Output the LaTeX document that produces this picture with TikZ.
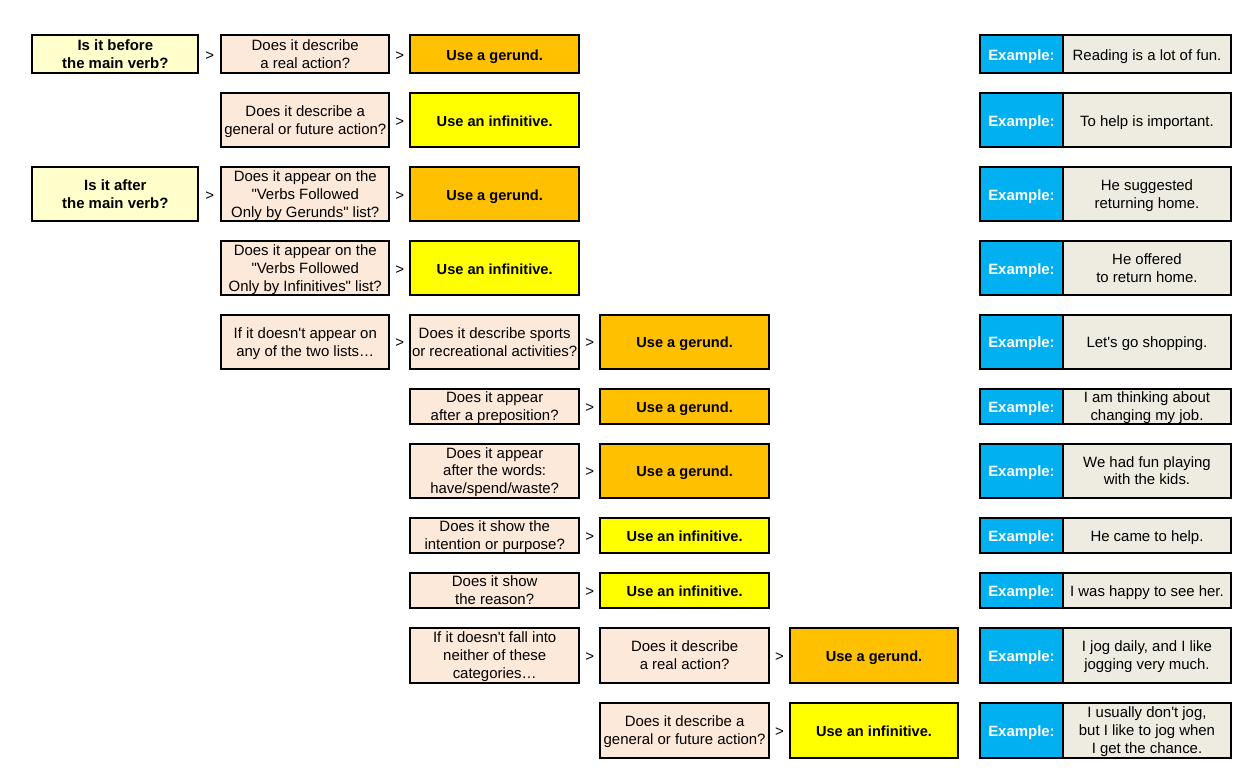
\documentclass[tikz,border=0pt]{standalone}
\usepackage{fontspec}
\setmainfont{Liberation Sans}
\usetikzlibrary{matrix}
\definecolor{startyellow}{HTML}{FFFFCC}
\definecolor{askpeach}{HTML}{FDE9D9}
\definecolor{gerorange}{HTML}{FFC000}
\definecolor{infyellow}{HTML}{FFFF00}
\definecolor{exblue}{HTML}{00B0F0}
\definecolor{exgrey}{HTML}{EEECE1}
\newcommand\fsz{\fontsize{8.5}{10.2}\selectfont}
\newcommand\fszb{\fontsize{8.3}{10.2}\selectfont\bfseries}
\newcommand\cellstack[1]{\raisebox{0.06em}[0pt][0pt]{\begin{tabular}{@{}c@{}}#1\end{tabular}}}
\newcommand\q{\textquotedbl}
\newcommand\ap{\textquotesingle}

\begin{document}
\begin{tikzpicture}
\useasboundingbox (0,0) rectangle (25.08,-15.64);
\tikzstyle{start}=[fill=startyellow, font=\fsz\bfseries, minimum width=3.32cm]
\tikzstyle{ask}=[fill=askpeach]
\tikzstyle{ger}=[fill=gerorange, font=\fszb]
\tikzstyle{inf}=[fill=infyellow, font=\fszb]
\tikzstyle{gt}=[draw=none, fill=none, minimum width=0.38cm]
\tikzstyle{exlabel}=[fill=exblue, text=white, font=\fsz\bfseries, minimum width=1.66cm]
\tikzstyle{exsent}=[fill=exgrey, minimum width=3.36cm]
\matrix (flow) [matrix of nodes, anchor=north west, inner sep=0mm,
nodes={draw, line width=1.1pt, inner sep=0pt, anchor=center, text height=8.5pt, text depth=1.8pt,
  minimum width=3.38cm, minimum height=1.08cm, font=\fsz},
row sep=0.36cm, column sep=0pt,
column 1/.style={nodes={start}},
column 2/.style={nodes={gt, minimum width=0.42cm}},
column 3/.style={nodes={minimum width=3.36cm}},
column 4/.style={nodes={gt}},
column 6/.style={nodes={gt}},
column 8/.style={nodes={gt}},
column 9/.style={nodes={minimum width=3.36cm}},
column 10/.style={nodes={exlabel}},
column 11/.style={nodes={exsent}},
row 1/.style={nodes={minimum height=0.76cm}},
row 6/.style={nodes={minimum height=0.70cm}},
row 8/.style={nodes={minimum height=0.70cm}},
row 9/.style={nodes={minimum height=0.70cm}},
row 10/.style={nodes={minimum height=1.10cm}},
row 11/.style={nodes={minimum height=1.10cm}}] at (0.62,-0.68)
{
\cellstack{Is it before\\the main verb?} & > & |[ask]| \cellstack{Does it describe\\a real action?} & > & |[ger]| Use a gerund. & & & & &[0.40cm] Example: &[-1.1pt] Reading is a lot of fun. \\
& & |[ask]| \cellstack{Does it describe a\\general or future action?} & > & |[inf]| Use an infinitive. & & & & &[0.40cm] Example: &[-1.1pt] To help is important. \\
\cellstack{Is it after\\the main verb?} & > & |[ask]| \cellstack{Does it appear on the\\\q Verbs Followed\\Only by Gerunds\q{} list?} & > & |[ger]| Use a gerund. & & & & &[0.40cm] Example: &[-1.1pt] \cellstack{He suggested\\returning home.} \\
& & |[ask]| \cellstack{Does it appear on the\\\q Verbs Followed\\Only by Infinitives\q{} list?} & > & |[inf]| Use an infinitive. & & & & &[0.40cm] Example: &[-1.1pt] \cellstack{He offered\\to return home.} \\
& & |[ask]| \cellstack{If it doesn\ap t appear on\\any of the two lists…} & > & |[ask]| \cellstack{Does it describe sports\\or recreational activities?} & > & |[ger]| Use a gerund. & & &[0.40cm] Example: &[-1.1pt] Let\ap s go shopping. \\
& & & & |[ask]| \cellstack{Does it appear\\after a preposition?} & > & |[ger]| Use a gerund. & & &[0.40cm] Example: &[-1.1pt] \cellstack{I am thinking about\\changing my job.} \\
& & & & |[ask]| \cellstack{Does it appear\\after the words:\\have/spend/waste?} & > & |[ger]| Use a gerund. & & &[0.40cm] Example: &[-1.1pt] \cellstack{We had fun playing\\with the kids.} \\
& & & & |[ask]| \cellstack{Does it show the\\intention or purpose?} & > & |[inf]| Use an infinitive. & & &[0.40cm] Example: &[-1.1pt] He came to help. \\
& & & & |[ask]| \cellstack{Does it show\\the reason?} & > & |[inf]| Use an infinitive. & & &[0.40cm] Example: &[-1.1pt] I was happy to see her. \\
& & & & |[ask]| \cellstack{If it doesn\ap t fall into\\neither of these\\categories…} & > & |[ask]| \cellstack{Does it describe\\a real action?} & > & |[ger]| Use a gerund. &[0.40cm] Example: &[-1.1pt] \cellstack{I jog daily, and I like\\jogging very much.} \\
& & & & & & |[ask]| \cellstack{Does it describe a\\general or future action?} & > & |[inf]| Use an infinitive. &[0.40cm] Example: &[-1.1pt] \cellstack{I usually don\ap t jog,\\but I like to jog when\\I get the chance.} \\
};

\end{tikzpicture}
\end{document}
